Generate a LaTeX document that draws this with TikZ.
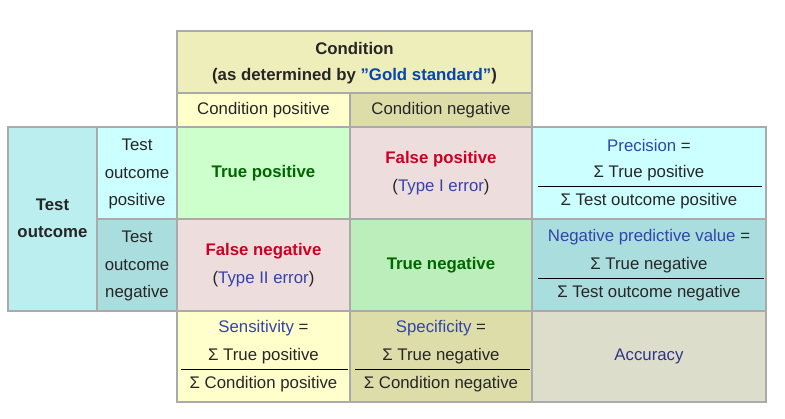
\documentclass[tikz,border=0pt]{standalone}
\usepackage{fontspec}
\setmainfont{Liberation Sans}
\definecolor{bd}{HTML}{AAAAAA}
\definecolor{chead}{HTML}{EEEEBB}
\definecolor{cpos}{HTML}{FFFFCC}
\definecolor{cneg}{HTML}{DDDDAA}
\definecolor{thead}{HTML}{BBEEEE}
\definecolor{tpos}{HTML}{CCFFFF}
\definecolor{tneg}{HTML}{AADDDD}
\definecolor{tp}{HTML}{CCFFCC}
\definecolor{fp}{HTML}{EEDDDD}
\definecolor{tn}{HTML}{BBEEBB}
\definecolor{acc}{HTML}{DDDDCC}
\definecolor{grn}{HTML}{006600}
\definecolor{rd}{HTML}{CC0022}
\definecolor{lnk}{HTML}{3344AA}
\definecolor{gold}{HTML}{0645AD}
\definecolor{accT}{HTML}{333388}
\begin{document}
\begin{tikzpicture}[x=1pt,y=-1pt,
  cell/.style={draw=bd,line width=1.2pt},
  txt/.style={font=\fontsize{16.8}{20}\selectfont,inner sep=0pt,align=center,text=black!85},
  bt/.style={txt,font=\fontsize{16.8}{20}\selectfont\bfseries}]
\useasboundingbox (0,0) rectangle (785,419);
% cells
\path[cell,fill=chead] (177,31) rectangle (532,93);
\path[cell,fill=cpos] (177,93) rectangle (350,127);
\path[cell,fill=cneg] (350,93) rectangle (532,127);
\path[cell,fill=thead] (8,127) rectangle (97,311);
\path[cell,fill=tpos] (97,127) rectangle (177,219);
\path[cell,fill=tneg] (97,219) rectangle (177,311);
\path[cell,fill=tp] (177,127) rectangle (350,219);
\path[cell,fill=fp] (350,127) rectangle (532,219);
\path[cell,fill=fp] (177,219) rectangle (350,311);
\path[cell,fill=tn] (350,219) rectangle (532,311);
\path[cell,fill=tpos] (532,127) rectangle (766,219);
\path[cell,fill=tneg] (532,219) rectangle (766,311);
\path[cell,fill=cpos] (177,311) rectangle (350,402);
\path[cell,fill=cneg] (350,311) rectangle (532,402);
\path[cell,fill=acc] (532,311) rectangle (766,402);
% texts
\node[bt] (cond) at (354.5,48) {Condition};
\node[bt] (asdet) at (354.5,76) {(as determined by {\color{gold}\symbol{34}Gold standard\symbol{34}})};
\node[txt] (cp) at (263.5,110) {Condition positive};
\node[txt] (cn) at (441,110) {Condition negative};
\node[bt] (to1) at (52.5,205) {Test};
\node[bt] (to2) at (52.5,232) {outcome};
\node[txt] (tpo1) at (137,145) {Test};
\node[txt] (tpo2) at (137,173) {outcome};
\node[txt] (tpo3) at (137,201) {positive};
\node[txt] (tno1) at (137,237) {Test};
\node[txt] (tno2) at (137,265) {outcome};
\node[txt] (tno3) at (137,293) {negative};
\node[bt,text=grn] (tpn) at (263.5,173) {True positive};
\node[bt,text=rd] (fpn) at (441,159) {False positive};
\node[txt] (fpe) at (441,187) {({\color{lnk}Type I error})};
\node[bt,text=rd] (fnn) at (263.5,251) {False negative};
\node[txt] (fne) at (263.5,279) {({\color{lnk}Type II error})};
\node[bt,text=grn] (tnn) at (441,265) {True negative};
\node[txt] (prec) at (649,145) {{\color{lnk}Precision} =};
\node[txt] (prec1) at (649,173) {Σ True positive};
\node[txt] (prec2) at (649,201) {Σ Test outcome positive};
\draw[line width=1pt] (538,187) -- (762,187);
\node[txt] (npv) at (649,237) {{\color{lnk}Negative predictive value} =};
\node[txt] (npv1) at (649,265) {Σ True negative};
\node[txt] (npv2) at (649,293) {Σ Test outcome negative};
\draw[line width=1pt] (538,279) -- (764,279);
\node[txt] (sen) at (263.5,328) {{\color{lnk}Sensitivity} =};
\node[txt] (sen1) at (263.5,356) {Σ True positive};
\node[txt] (sen2) at (263.5,384) {Σ Condition positive};
\draw[line width=1pt] (181,370) -- (348,370);
\node[txt] (spe) at (441,328) {{\color{lnk}Specificity} =};
\node[txt] (spe1) at (441,356) {Σ True negative};
\node[txt] (spe2) at (441,384) {Σ Condition negative};
\draw[line width=1pt] (355,370) -- (530,370);
\node[txt,text=accT] (acc) at (649,356) {Accuracy};
\end{tikzpicture}
\end{document}
